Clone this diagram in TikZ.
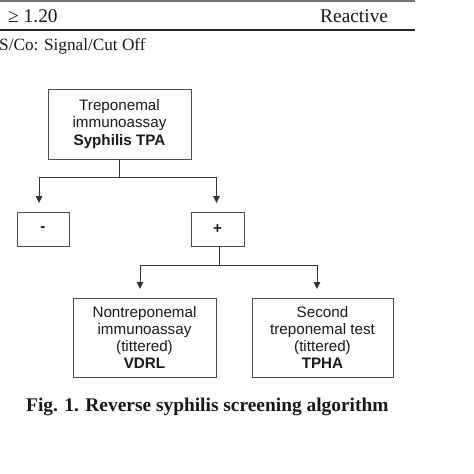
\documentclass[tikz,border=0pt]{standalone}
\usepackage{fontspec}
\setmainfont{Liberation Serif}
\newfontfamily\boxfont{Liberation Sans}
\usetikzlibrary{arrows.meta,positioning}
\tikzset{
  stepbox/.style={draw=black!70,line width=0.9pt,inner sep=0pt,align=center,
    font=\boxfont\fontsize{15.2}{17.3}\selectfont,text=black!90},
  flow/.style={draw=black!80,line width=0.9pt},
  flowarrow/.style={flow,-{Triangle[width=6.5pt,length=7pt]},shorten >=8.5pt}
}
\begin{document}
\begin{tikzpicture}[x=1pt,y=-1pt]
 \useasboundingbox (0,0) rectangle (474,474);
 % table remains at the top
 \draw[black!55,line width=2.6pt] (0,0.5) -- (415,0.5);
 \draw[black!85,line width=1.2pt] (0,30) -- (415,30);
 \node[anchor=west,inner sep=0pt,font=\fontsize{19.4}{21}\selectfont,text=black!90] (ratio) at (8,16) {≥ 1.20};
 \node[anchor=west,inner sep=0pt,font=\fontsize{19.4}{21}\selectfont,text=black!90] (react) at (320,16) {Reactive};
 \node[anchor=west,inner sep=0pt,font=\fontsize{17.2}{19}\selectfont,text=black!90] (sco) at (-1,46) {S/Co: Signal/Cut Off};
 % boxes
 \node[stepbox,minimum width=143pt,minimum height=70pt] (tpa) at (119.5,124)
   {Treponemal\\immunoassay\\\textbf{Syphilis TPA}};
 \node[stepbox,minimum width=52pt,minimum height=34pt] (neg) at (43,229) {\textbf{-}};
 \node[stepbox,minimum width=53pt,minimum height=34pt] (pos) at (217.5,229) {\textbf{+}};
 \node[stepbox,minimum width=143pt,minimum height=79pt] (vdrl) at (144.5,337.5)
   {Nontreponemal\\immunoassay\\(tittered)\\\textbf{VDRL}};
 \node[stepbox,minimum width=141pt,minimum height=79pt] (tpha) at (322.5,337.5)
   {Second\\treponemal test\\(tittered)\\\textbf{TPHA}};
 % connectors
 \coordinate (split1) at (119.5,177);
 \coordinate (split2) at (219,265);
 \draw[flow] (tpa.south) -- (split1);
 \draw[flowarrow] (split1) -| ([xshift=-4pt]neg.north);
 \draw[flowarrow] (split1) -| ([xshift=-1pt]pos.north);
 \draw[flow] (pos.south -| split2) -- (split2);
 \draw[flowarrow] (split2) -| ([xshift=-4.5pt]vdrl.north);
 \draw[flowarrow] (split2) -| ([xshift=-5.5pt]tpha.north);
 % caption
 \node[anchor=west,inner sep=0pt,font=\bfseries\fontsize{19.4}{21}\selectfont,text=black!90] (cap) at (26,407)
   {Fig. 1. Reverse syphilis screening algorithm};
\end{tikzpicture}
\end{document}
